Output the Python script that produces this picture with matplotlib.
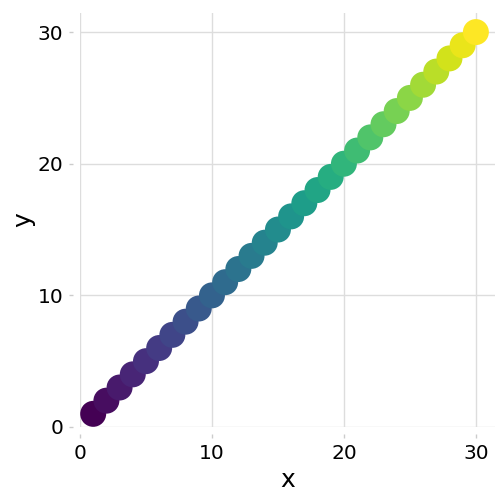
import matplotlib
matplotlib.use("Agg")
import matplotlib.pyplot as plt

# points along the diagonal, coloured by their value
x_vals = [1, 2, 3, 4, 5, 6, 7, 8, 9, 10, 11, 12, 13, 14, 15,
          16, 17, 18, 19, 20, 21, 22, 23, 24, 25, 26, 27, 28, 29, 30]
y_vals = [1, 2, 3, 4, 5, 6, 7, 8, 9, 10, 11, 12, 13, 14, 15,
          16, 17, 18, 19, 20, 21, 22, 23, 24, 25, 26, 27, 28, 29, 30]
x_ticks = [0, 10, 20, 30]
y_ticks = [0, 10, 20, 30]

fig = plt.figure(figsize=(5, 5), dpi=100)
ax = fig.add_axes([0.16, 0.146, 0.83, 0.828])

ax.scatter(x_vals, y_vals, c=x_vals, cmap="viridis", s=350, zorder=3, linewidths=0)

ax.set_xlim(0, 31.45)
ax.set_ylim(0, 31.45)
ax.set_xticks(x_ticks)
ax.set_yticks(y_ticks)

# light grid, no frame, small grey ticks set slightly off the panel
ax.grid(True, color="#dddddd", linewidth=1)
ax.set_axisbelow(True)
for side in ["top", "right", "bottom", "left"]:
    ax.spines[side].set_visible(False)
ax.spines["bottom"].set_position(("outward", 5))
ax.spines["left"].set_position(("outward", 5))
ax.tick_params(direction="out", length=3, width=1, color="#cccccc",
               labelsize=14.5, pad=4)

ax.set_xlabel("x", fontsize=18, labelpad=4)
ax.set_ylabel("y", fontsize=18, labelpad=2)

fig.savefig("out.png", dpi=100)
